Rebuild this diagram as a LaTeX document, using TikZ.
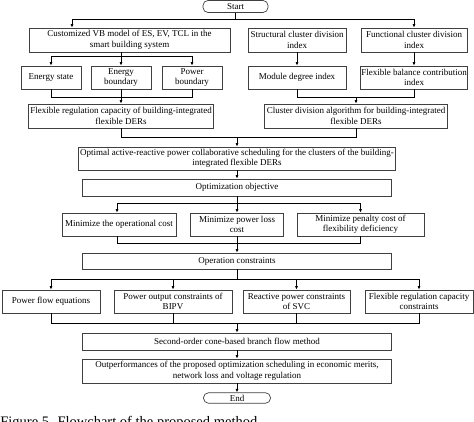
\documentclass[tikz,border=0pt]{standalone}
\usepackage{fontspec}
\setmainfont{Liberation Serif}
\usetikzlibrary{arrows.meta}
\begin{document}
\begin{tikzpicture}[x=1pt,y=1pt,
            box/.style = {draw=black!75, line width=0.7pt,
                        inner sep=1pt, align=center,
                        font=\fontsize{9}{10.5}\selectfont},
            term/.style = {box, rounded corners=5pt},
            arr/.style = {-{Latex[length=3.5pt,width=3pt]}},
            every path/.style = {line width=0.7pt}]
            \useasboundingbox (0,0) rectangle (474,-422);
            % Start and end
            \node[term,minimum width=65,minimum height=12] (start) at (235.5,-6.5) {Start};
            \node[term,minimum width=67,minimum height=10.5] (stop) at (237,-398) {End};
            % Left branch: VB model
            \node[box,minimum width=201,minimum height=24] (vbmodel) at (129.5,-40) {Customized VB model of ES, EV, TCL in the\\smart building system};
            \node[box,minimum width=60,minimum height=23] (estate) at (51,-77.5) {Energy state};
            \node[box,minimum width=60,minimum height=23] (eboundary) at (121,-77.5) {Energy\\boundary};
            \node[box,minimum width=60,minimum height=23] (pboundary) at (192,-77.5) {Power\\boundary};
            \node[box,minimum width=185,minimum height=24] (flexcap) at (121,-116) {Flexible regulation capacity of building-integrated\\flexible DERs};
            % Right branch: cluster division
            \node[box,minimum width=98,minimum height=24] (structidx) at (297,-40) {Structural cluster division\\index};
            \node[box,minimum width=106,minimum height=24] (funcidx) at (414,-40) {Functional cluster division\\index};
            \node[box,minimum width=98,minimum height=23] (moduleidx) at (297,-77.5) {Module degree index};
            \node[box,minimum width=106,minimum height=23] (balanceidx) at (414,-77.5) {Flexible balance contribution\\index};
            \node[box,minimum width=183,minimum height=24] (clusteralg) at (356,-116) {Cluster division algorithm for building-integrated\\flexible DERs};
            % Scheduling
            \node[box,minimum width=317,minimum height=23] (optsched) at (237,-158.5) {Optimal active-reactive power collaborative scheduling for the clusters of the building-\\integrated flexible DERs};
            \node[box,minimum width=309,minimum height=17] (objective) at (237,-187.5) {Optimization objective};
            \node[box,minimum width=114,minimum height=23] (mincost) at (119,-224.5) {Minimize the operational cost};
            \node[box,minimum width=93,minimum height=23] (minloss) at (237,-224.5) {Minimize power loss\\cost};
            \node[box,minimum width=127,minimum height=23] (minpenalty) at (360.5,-224.5) {Minimize penalty cost of\\flexibility deficiency};
            \node[box,minimum width=309,minimum height=16] (constraints) at (237,-261) {Operation constraints};
            \node[box,minimum width=98,minimum height=23] (pflow) at (51,-301.5) {Power flow equations};
            \node[box,minimum width=118,minimum height=23] (bipv) at (173,-301.5) {Power output constraints of\\BIPV};
            \node[box,minimum width=107,minimum height=23] (svc) at (296.5,-301.5) {Reactive power constraints\\of SVC};
            \node[box,minimum width=108,minimum height=23] (flexcons) at (419,-301.5) {Flexible regulation capacity\\constraints};
            \node[box,minimum width=309,minimum height=17] (socp) at (237,-341.5) {Second-order cone-based branch flow method};
            \node[box,minimum width=309,minimum height=24] (outperf) at (237,-371) {Outperformances of the proposed optimization scheduling in economic merits,\\network loss and voltage regulation};
            % Caption (cut by the lower edge)
            \node[anchor=base west,inner sep=0pt,font=\fontsize{14.5}{16}\selectfont] (caption) at (0,-426.5) {Figure 5. Flowchart of the proposed method.};
            % Connectors from start
            \draw (start.south) -- ++(0,-6.5) coordinate (j0);
            \draw[arr] (j0) -| ([xshift=-57.5]vbmodel.north);
            \draw[arr] (j0) -| (funcidx.north);
            % VB model to boundaries
            \coordinate (j1) at ([yshift=9]eboundary.north);
            \draw (vbmodel.south -| j1) -- (j1);
            \draw[arr] (j1) -| (estate.north);
            \draw[arr] (j1) -- (eboundary.north);
            \draw[arr] (j1) -| (pboundary.north);
            \draw (estate.south) |- ([yshift=-8]eboundary.south) -| (pboundary.south);
            \draw[arr] (eboundary.south) -- (flexcap.north);
            % Cluster indexes
            \draw[arr] (structidx.south) -- (moduleidx.north);
            \draw[arr] (funcidx.south) -- (balanceidx.north);
            \coordinate (j2) at ([yshift=-8]moduleidx.south -| clusteralg.north);
            \draw (moduleidx.south) |- (j2) -| (balanceidx.south);
            \draw[arr] (j2) -- (clusteralg.north);
            % Merge into scheduling
            \coordinate (j3) at ([yshift=-9]flexcap.south -| optsched.north);
            \draw (flexcap.south) |- (j3) -| (clusteralg.south);
            \draw[arr] (j3) -- (optsched.north);
            \draw[arr] (optsched.south) -- (objective.north);
            % Objectives
            \draw (objective.south) -- ++(0,-7) coordinate (j4);
            \draw[arr] (j4) -| ([xshift=-2]mincost.north);
            \draw[arr] (j4) -- (minloss.north);
            \draw[arr] (j4) -| (minpenalty.north);
            \draw ([xshift=-2]mincost.south) |- ([yshift=-7]minloss.south) -| (minpenalty.south);
            \draw[arr] (minloss.south) -- (constraints.north);
            % Constraints
            \draw (constraints.south) -- ++(0,-10) coordinate (j5);
            \draw[arr] (j5) -| (pflow.north);
            \draw[arr] (j5) -| (bipv.north);
            \draw[arr] (j5) -| (svc.north);
            \draw[arr] (j5) -| (flexcons.north);
            \coordinate (j6) at ([yshift=-10]pflow.south -| socp.north);
            \draw (pflow.south) |- (j6) -| (flexcons.south);
            \draw (bipv.south) -- (bipv.south |- j6);
            \draw (svc.south) -- (svc.south |- j6);
            \draw[arr] (j6) -- (socp.north);
            % Method to end
            \draw[arr] (socp.south) -- (outperf.north);
            \draw[arr] (outperf.south) -- (stop.north);
        \end{tikzpicture}
\end{document}
